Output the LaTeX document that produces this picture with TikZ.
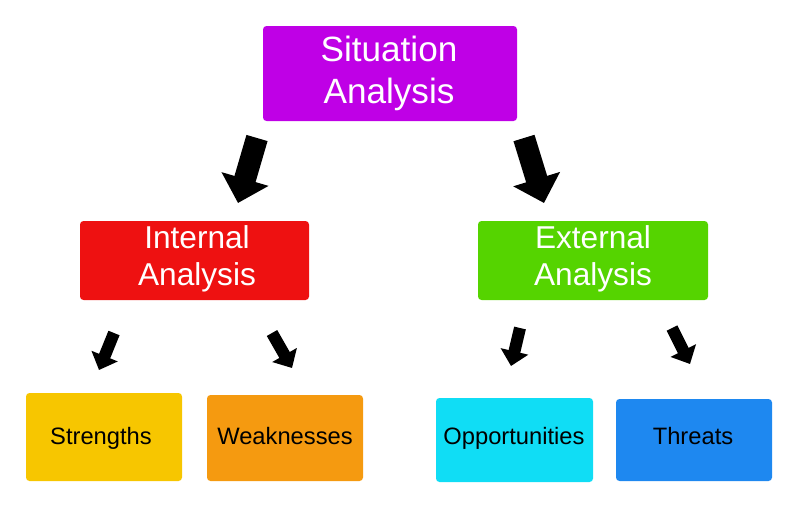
\documentclass[tikz,border=0pt]{standalone}
\usepackage{fontspec}
\setmainfont{Liberation Sans}
\usetikzlibrary{arrows.meta}
\definecolor{cpur}{HTML}{BF00E6}
\definecolor{cred}{HTML}{EE1111}
\definecolor{cgrn}{HTML}{55D400}
\definecolor{cyel}{HTML}{F7C600}
\definecolor{corg}{HTML}{F59A10}
\definecolor{ccyn}{HTML}{10DDF5}
\definecolor{cblu}{HTML}{1E88F0}
\begin{document}
\begin{tikzpicture}[x=0.02cm,y=-0.02cm,
  bigbox/.style={rounded corners=2pt,text=white,font=\fontsize{20}{24}\selectfont,align=center,inner sep=0pt},
  midbox/.style={bigbox,font=\fontsize{18}{21}\selectfont},
  smallbox/.style={rounded corners=2pt,text=black,font=\fontsize{13.5}{16}\selectfont,inner sep=0pt},
  bigarrow/.style={line width=0.44cm,-{Triangle[length=0.5cm,width=0.95cm]}},
  smallarrow/.style={line width=0.24cm,-{Triangle[length=0.3cm,width=0.55cm]}}]
\useasboundingbox (0,0) rectangle (800,507);
\fill[cpur,rounded corners=2pt] (263,26) rectangle (517,121);
\node[bigbox] (sit) at (389,73) {Situation\\Analysis};
\fill[cred,rounded corners=2pt] (80,221) rectangle (309,300);
\node[midbox] (int) at (197,259) {Internal\\Analysis};
\fill[cgrn,rounded corners=2pt] (478,221) rectangle (708,300);
\node[midbox] (ext) at (593,259) {External\\Analysis};
\fill[cyel,rounded corners=2pt] (26,393) rectangle (182,481);
\node[smallbox] (str) at (101,438) {Strengths};
\fill[corg,rounded corners=2pt] (207,395) rectangle (363,481);
\node[smallbox] (wea) at (285,436) {Weaknesses};
\fill[ccyn,rounded corners=2pt] (436,398) rectangle (593,482);
\node[smallbox] (opp) at (514,438) {Opportunities};
\fill[cblu,rounded corners=2pt] (616,399) rectangle (772,481);
\node[smallbox] (thr) at (693,436) {Threats};
\coordinate (a1s) at (257,138); \coordinate (a1e) at (238,203);
\coordinate (a2s) at (524,138); \coordinate (a2e) at (544,203);
\coordinate (b1s) at (114,333); \coordinate (b1e) at (99,370);
\coordinate (b2s) at (272,333); \coordinate (b2e) at (292,368);
\coordinate (b3s) at (520,328); \coordinate (b3e) at (511,366);
\coordinate (b4s) at (672,328); \coordinate (b4e) at (690,364);
\draw[bigarrow] (a1s) -- (a1e);
\draw[bigarrow] (a2s) -- (a2e);
\draw[smallarrow] (b1s) -- (b1e);
\draw[smallarrow] (b2s) -- (b2e);
\draw[smallarrow] (b3s) -- (b3e);
\draw[smallarrow] (b4s) -- (b4e);
\end{tikzpicture}
\end{document}
